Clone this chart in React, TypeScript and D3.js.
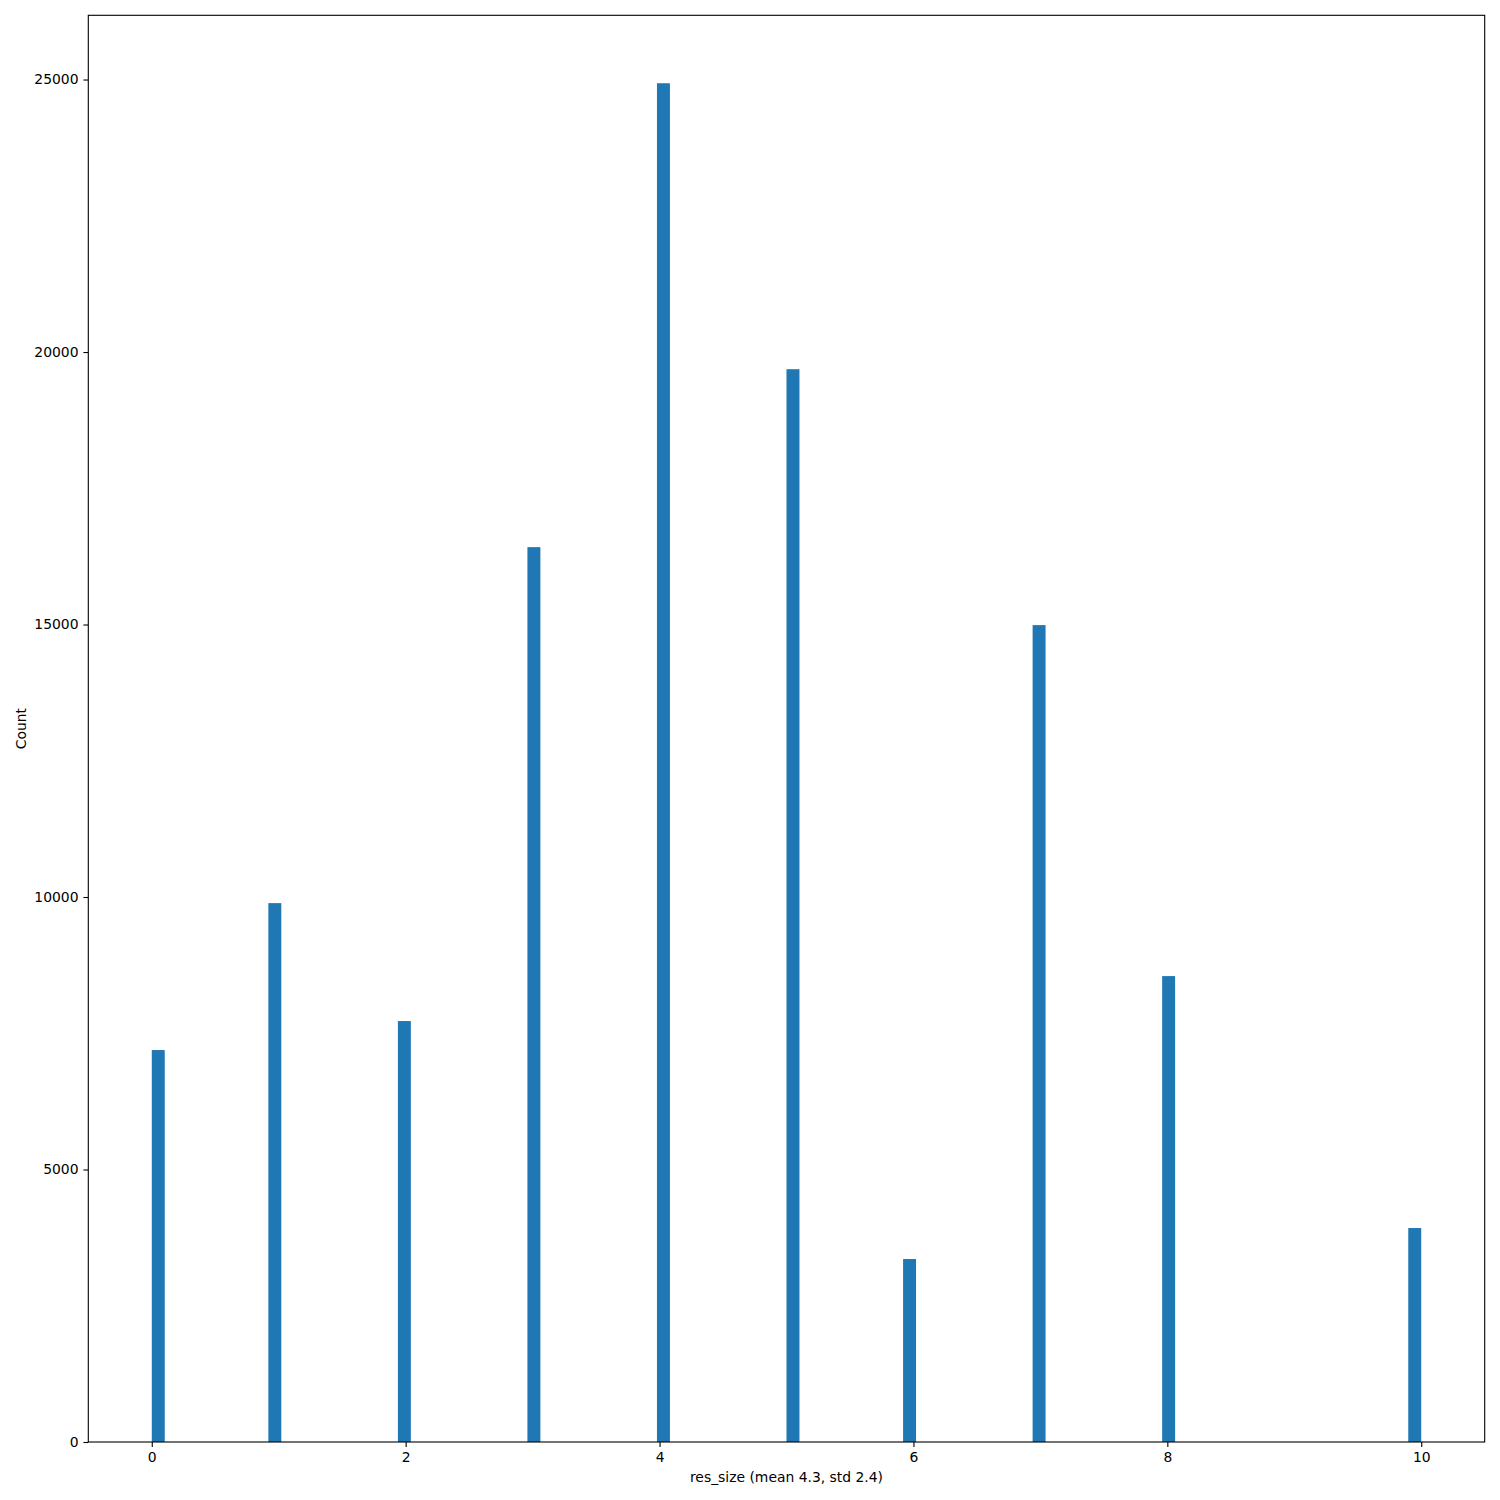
import React, { useRef, useEffect } from 'react';
import * as d3 from 'd3';

// res_size values present in the data and how many rows hold each
const resSizes = [0, 1, 2, 3, 4, 5, 6, 7, 8, 10];
const counts = [7192, 9888, 7724, 16420, 24932, 19685, 3357, 14989, 8549, 3926];
const xTicks = [0, 2, 4, 6, 8, 10];
const yTicks = [0, 5000, 10000, 15000, 20000, 25000];
const binCount = 98;
const xLabel = 'res_size (mean 4.3, std 2.4)';
const yLabel = 'Count';

const W = 1500;
const H = 1500;
const left = 88.3;
const right = 1484.7;
const top = 15.3;
const bottom = 1442;
const font = 'DejaVu Sans, sans-serif';

const App = () => {
  const Svg = useRef<SVGSVGElement>(null);
  useEffect(() => {
    const svg = d3.select(Svg.current);
    svg.selectAll('*').remove();

    const lo = d3.min(resSizes) as number;
    const hi = d3.max(resSizes) as number;
    const pad = (hi - lo) * 0.05;
    const binWidth = (hi - lo) / binCount;

    const xScale = d3.scaleLinear().domain([lo - pad, hi + pad]).range([left, right]);
    const yMax = (d3.max(counts) as number) * 1.05;
    const yScale = d3.scaleLinear().domain([0, yMax]).range([bottom, top]);

    // same binning as a 98-bin histogram over [min, max]
    const bins = resSizes.map((v, i) => {
      const idx = Math.min(binCount - 1, Math.floor((v - lo) / binWidth));
      return { x0: lo + idx * binWidth, x1: lo + (idx + 1) * binWidth, count: counts[i] };
    });

    svg
      .append('g')
      .selectAll('rect')
      .data(bins)
      .enter()
      .append('rect')
      .attr('x', (d) => xScale(d.x0))
      .attr('width', (d) => xScale(d.x1) - xScale(d.x0))
      .attr('y', (d) => yScale(d.count))
      .attr('height', (d) => yScale(0) - yScale(d.count))
      .attr('fill', '#1f77b4');

    // frame
    svg
      .append('rect')
      .attr('x', left)
      .attr('y', top)
      .attr('width', right - left)
      .attr('height', bottom - top)
      .attr('fill', 'none')
      .attr('stroke', '#000')
      .attr('stroke-width', 1.1);

    const xAxis = d3
      .axisBottom(xScale)
      .tickValues(xTicks)
      .tickSize(4.9)
      .tickPadding(4.9)
      .tickFormat((d) => String(d));
    const yAxis = d3
      .axisLeft(yScale)
      .tickValues(yTicks)
      .tickSize(4.9)
      .tickPadding(4.9)
      .tickFormat((d) => String(d));

    const gx = svg.append('g').attr('transform', `translate(0, ${bottom})`).call(xAxis);
    const gy = svg.append('g').attr('transform', `translate(${left}, 0)`).call(yAxis);
    [gx, gy].forEach((g) => {
      g.select('.domain').remove();
      g.selectAll('line').attr('stroke', '#000').attr('stroke-width', 1.1);
      g.selectAll('text').attr('font-family', font).attr('font-size', 13.9).attr('fill', '#000');
    });

    svg
      .append('text')
      .attr('x', (left + right) / 2)
      .attr('y', 1482)
      .attr('text-anchor', 'middle')
      .attr('font-family', font)
      .attr('font-size', 13.9)
      .text(xLabel);

    svg
      .append('text')
      .attr('transform', `translate(26, ${(top + bottom) / 2}) rotate(-90)`)
      .attr('text-anchor', 'middle')
      .attr('font-family', font)
      .attr('font-size', 13.9)
      .text(yLabel);
  }, []);
  return (
    <svg
      ref={Svg}
      width={W}
      height={H}
      style={{ position: 'absolute', left: 0, top: 0, background: '#fff' }}
    />
  );
};

export default App;
